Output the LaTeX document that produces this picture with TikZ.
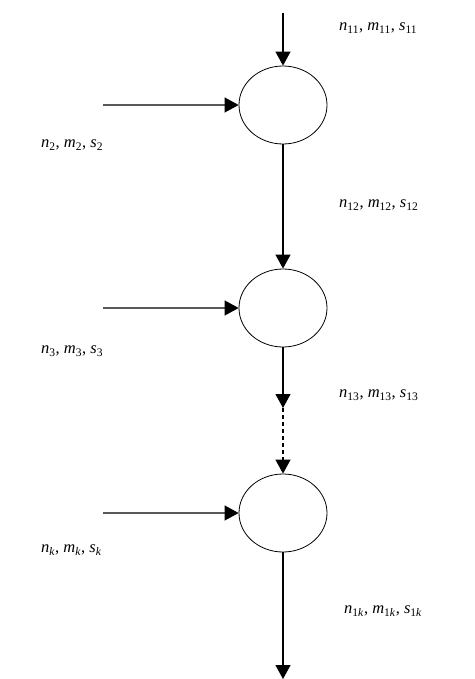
\documentclass[tikz,border=0pt]{standalone}
\usepackage{fontspec}
\setmainfont{Liberation Serif}
\usetikzlibrary{arrows.meta,shapes.geometric}
\tikzset{
  proc/.style={draw,ellipse,line width=0.8pt,minimum width=88pt,minimum height=78pt,inner sep=0pt},
  flow/.style={line width=1.2pt,-{Triangle[length=14pt,width=15pt]}},
  feed/.style={line width=1.1pt,draw=black!65,arrows={-{Triangle[length=14pt,width=15pt,fill=black,color=black]}}},
  lbl/.style={font=\fontsize{16.5}{19}\selectfont,anchor=west,inner sep=0pt}
}
\newcommand{\vv}[2]{\textit{#1}\textsubscript{#2}}
\begin{document}
\begin{tikzpicture}[x=1pt,y=-1pt]
\useasboundingbox (0,0) rectangle (474,679);
\node[proc] (e1) at (283,105) {};
\node[proc] (e2) at (283,308) {};
\node[proc] (e3) at (283,513) {};
\coordinate (top) at (283,13);
\coordinate (in1) at (103,105);
\coordinate (in2) at (103,308);
\coordinate (in3) at (103,513);
\coordinate (mid) at (283,408);
\coordinate (bot) at (283,679);
\draw[flow] (top) -- (e1.north);
\draw[feed] (in1) -- (e1.west);
\draw[flow] (e1.south) -- (e2.north);
\draw[feed] (in2) -- (e2.west);
\draw[flow] (e2.south) -- (mid);
\draw[flow,dash pattern=on 4pt off 3pt] (mid) -- (e3.north);
\draw[feed] (in3) -- (e3.west);
\draw[flow] (e3.south) -- (bot);
\node[lbl] (l11) at (339,28) {\vv{n}{11}, \vv{m}{11}, \vv{s}{11}};
\node[lbl] (l2) at (41,145) {\vv{n}{2}, \vv{m}{2}, \vv{s}{2}};
\node[lbl] (l12) at (339,205) {\vv{n}{12}, \vv{m}{12}, \vv{s}{12}};
\node[lbl] (l3) at (41,351) {\vv{n}{3}, \vv{m}{3}, \vv{s}{3}};
\node[lbl] (l13) at (339,395) {\vv{n}{13}, \vv{m}{13}, \vv{s}{13}};
\node[lbl] (lk) at (41,550) {\vv{n}{\textit{k}}, \vv{m}{\textit{k}}, \vv{s}{\textit{k}}};
\node[lbl] (l1k) at (344,611) {\vv{n}{1\textit{k}}, \vv{m}{1\textit{k}}, \vv{s}{1\textit{k}}};
\end{tikzpicture}
\end{document}
